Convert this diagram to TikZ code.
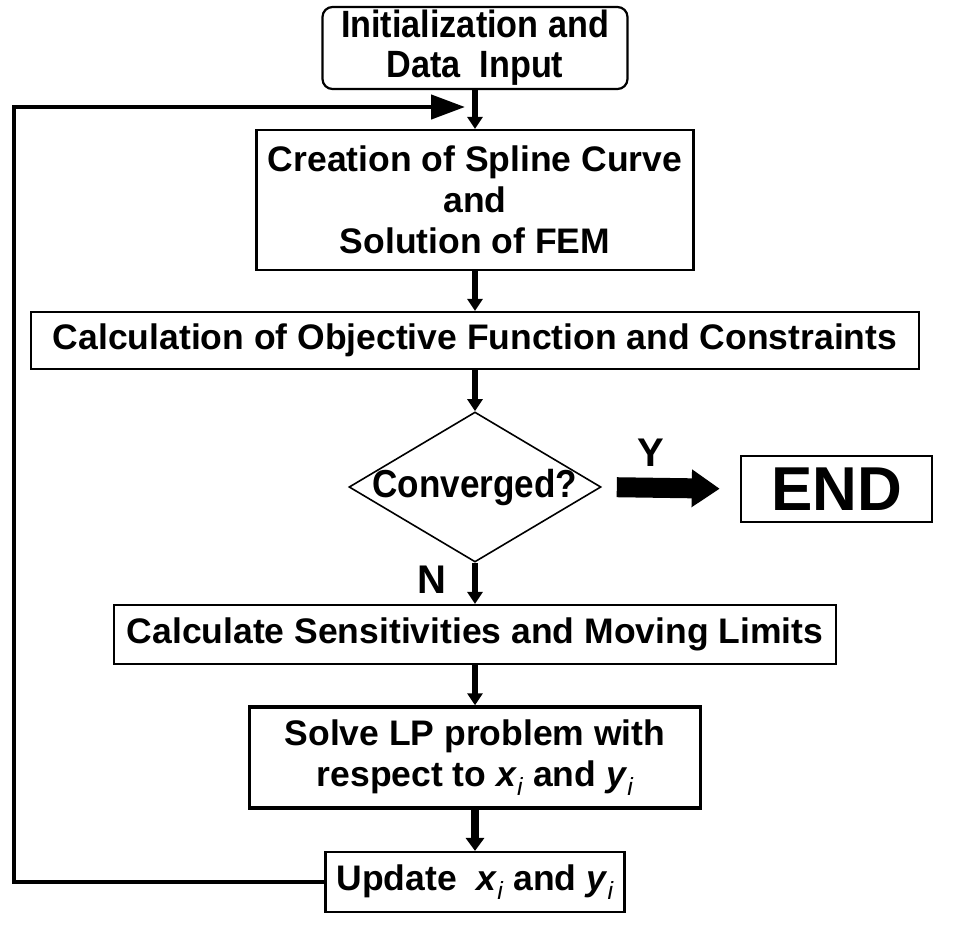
\documentclass[tikz,border=0pt]{standalone}
\usepackage{fontspec}
\setmainfont{Liberation Sans}
\newfontfamily\narrowfont[FakeStretch=0.9]{Liberation Sans}
\usetikzlibrary{arrows.meta,calc,shapes.geometric}

\newcommand{\subvar}[1]{\textit{#1}\textsubscript{\mdseries\itshape i}}

\begin{document}
\begin{tikzpicture}[x=1pt,y=-1pt]

% --------------------
% Parameters (tweak these)
% --------------------
\def\colx{475}     % x of the main column
\def\boxlw{2.2pt}  % border width of the boxes

\tikzset{
  proc/.style={draw, line width=\boxlw, align=center, inner sep=0pt,
    font=\fontsize{35.5}{41}\selectfont\bfseries},
  startbox/.style={proc, rounded corners=10pt,
    font=\fontsize{38}{40}\selectfont\narrowfont\bfseries},
  decision/.style={draw, diamond, line width=1.6pt, inner sep=0pt,
    minimum width=252pt, minimum height=150pt},
  flow/.style={-{Triangle[width=15pt,length=12pt]}, line width=6pt},
  bigflow/.style={-{Triangle[width=36pt,length=28pt]}, line width=20pt},
  feedback/.style={-{Triangle[width=24pt,length=34pt]}, line width=4.5pt},
  tag/.style={inner sep=0pt, font=\fontsize{40}{40}\selectfont\bfseries}
}

\useasboundingbox (0,0) rectangle (969,927);

% --------------------
% Process boxes
% --------------------
\node[startbox, minimum width=305pt, minimum height=82pt] (init) at (\colx,48)
  {Initialization and\\Data\ \ Input};
\node[proc, minimum width=437pt, minimum height=140pt] (spline) at (\colx,200)
  {Creation of Spline Curve\\and\\Solution of FEM};
\node[proc, minimum width=888pt, minimum height=57pt] (objfun) at (\colx,340.5)
  {Calculation of Objective Function and Constraints};

% --------------------
% Decision and end
% --------------------
\node[decision, label={[font=\fontsize{39}{40}\selectfont\narrowfont\bfseries]center:Converged?}]
  (conv) at (\colx,487) {};
\node[proc, line width=2.5pt, minimum width=191pt, minimum height=66pt,
  font=\fontsize{62}{62}\selectfont\bfseries] (stop) at (836.5,489) {END};

\node[proc, minimum width=722pt, minimum height=59pt] (sens) at (\colx,634.5)
  {Calculate Sensitivities and Moving Limits};
\node[proc, line width=3.5pt, minimum width=451pt, minimum height=101pt] (lp) at (\colx,757.5)
  {Solve LP problem with\\respect to \subvar{x} and \subvar{y}};
\node[proc, minimum width=299pt, minimum height=60pt] (update) at (\colx,882)
  {Update\ \ \subvar{x} and \subvar{y}};

% --------------------
% Labels of the decision
% --------------------
\node[tag] (ytag) at (651,453) {Y};
\node[tag] (ntag) at (432,580) {N};

% --------------------
% Main dataflow arrows
% --------------------
\draw[flow] (init) -- (spline);
\draw[flow] (spline) -- (objfun);
\draw[flow] (objfun) -- (conv);
\draw[flow] (conv) -- (sens);
\draw[flow] (sens) -- (lp);
\draw[flow, line width=8pt, -{Triangle[width=18pt,length=13pt]}] (lp) -- (update);
\draw[bigflow, shorten <=15pt, shorten >=20pt] (conv.east) -- (stop.west);

% feedback loop
\coordinate (fbturn) at (14,107);
\draw[feedback, shorten >=10pt] (update.west) -| (fbturn) -- (init.south |- fbturn);

\end{tikzpicture}
\end{document}
